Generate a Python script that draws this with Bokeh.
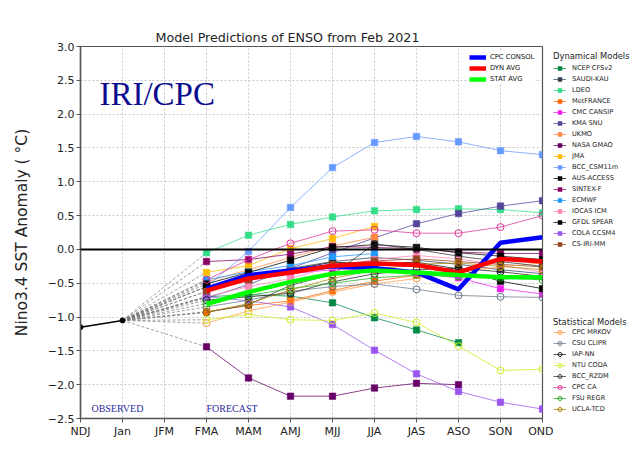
from bokeh.plotting import figure
from bokeh.layouts import row
from bokeh.models import (Range1d, FixedTicker, Span, Label, Legend, LegendItem, Title)
from bokeh.embed import file_html
from bokeh.resources import INLINE

# ---------------- data ----------------
seasons = ["NDJ", "Jan", "JFM", "FMA", "MAM", "AMJ", "MJJ", "JJA", "JAS", "ASO", "SON", "OND"]
y_ticks = [-2.5, -2.0, -1.5, -1.0, -0.5, 0.0, 0.5, 1.0, 1.5, 2.0, 2.5, 3.0]
y_tick_labels = ["\u22122.5", "\u22122.0", "\u22121.5", "\u22121.0", "\u22120.5", "0.0",
                 "0.5", "1.0", "1.5", "2.0", "2.5", "3.0"]

obs_x = [0, 1]
obs_y = [-1.15, -1.05]
first_fc = 3  # FMA index

dyn_names = ["NCEP CFSv2", "SAUDI-KAU", "LDEO", "MetFRANCE", "CMC CANSIP", "KMA SNU", "UKMO",
             "NASA GMAO", "JMA", "BCC_CSM11m", "AUS-ACCESS", "SINTEX-F", "ECMWF", "IOCAS ICM",
             "GFDL SPEAR", "COLA CCSM4", "CS-IRI-MM"]
dyn_colors = ["#008844", "#334455", "#33dd88", "#ff6600", "#ee22ee", "#554499", "#ff8844",
              "#660066", "#ffbb00", "#6699ff", "#000000", "#880066", "#2299ff", "#ff88bb",
              "#000000", "#9955ee", "#994422"]
ncep_cfsv2 = [-0.70, -0.67, -0.69, -0.79, -1.01, -1.19, -1.38]
saudi_kau = [-0.62, -0.42, -0.28, -0.18, -0.12, -0.16, -0.22, -0.30, -0.36]
ldeo = [-0.05, 0.21, 0.37, 0.48, 0.57, 0.59, 0.60, 0.59, 0.54]
metfrance = [-0.92, -0.83, -0.76, -0.61, -0.47, -0.38]
cmc_cansip = [-0.55, -0.45, -0.36, -0.30, -0.30, -0.35, -0.42, -0.58, -0.66]
kma_snu = [-0.72, -0.52, -0.28, -0.05, 0.17, 0.38, 0.53, 0.64, 0.72]
ukmo = [-0.48, -0.30, -0.12, 0.05, 0.18]
nasa_gmao = [-1.44, -1.90, -2.17, -2.17, -2.05, -1.98, -2.00]
jma = [-0.34, -0.24, 0.01, 0.16, 0.34]
bcc_csm11m = [-0.55, -0.03, 0.62, 1.21, 1.58, 1.67, 1.59, 1.46, 1.40]
aus_access = [-0.55, -0.45, -0.30, -0.19, -0.21, -0.19, -0.29, -0.47, -0.58]
sintex_f = [-0.18, -0.15, -0.07, 0.04, 0.03, 0.01, -0.04, -0.06, -0.06]
ecmwf = [-0.45, -0.33, -0.24, -0.11, -0.06]
iocas_icm = [-0.70, -0.55, -0.43, -0.25, -0.15, -0.09, -0.14, -0.23, -0.34]
gfdl_spear = [-0.51, -0.34, -0.16, 0.03, 0.07, 0.03, -0.05, -0.10, -0.15]
cola_ccsm4 = [-0.70, -0.76, -0.85, -1.11, -1.49, -1.84, -2.10, -2.26, -2.36]
cs_iri_mm = [-0.62, -0.45, -0.32, -0.22, -0.17, -0.14, -0.18, -0.22, -0.26]
dyn_values = [ncep_cfsv2, saudi_kau, ldeo, metfrance, cmc_cansip, kma_snu, ukmo, nasa_gmao, jma,
              bcc_csm11m, aus_access, sintex_f, ecmwf, iocas_icm, gfdl_spear, cola_ccsm4, cs_iri_mm]

stat_names = ["CPC MRKOV", "CSU CLIPR", "IAP-NN", "NTU CODA", "BCC_RZDM", "CPC CA", "FSU REGR", "UCLA-TCD"]
stat_colors = ["#ff9944", "#667788", "#222222", "#ccee22", "#333333", "#dd3399", "#22aa22", "#aa8800"]
cpc_mrkov = [-1.09, -0.91, -0.78, -0.63, -0.51, -0.43, -0.33, -0.26, -0.20]
csu_clipr = [-0.85, -0.75, -0.62, -0.55, -0.51, -0.59, -0.68, -0.70, -0.71]
iap_nn = [-0.75, -0.70, -0.65, -0.48, -0.36, -0.30, -0.28, -0.33, -0.40]
ntu_coda = [-1.04, -0.96, -1.04, -1.05, -0.94, -1.08, -1.43, -1.79, -1.77]
bcc_rzdm = [-0.93, -0.82, -0.53, -0.37, 0.08, 0.00, -0.10, -0.18, -0.25]
cpc_ca = [-0.45, -0.15, 0.09, 0.27, 0.29, 0.24, 0.24, 0.33, 0.50]
fsu_regr = [-0.80, -0.68, -0.58, -0.50, -0.42, -0.38, -0.40, -0.42, -0.45]
ucla_tcd = [-0.93, -0.80, -0.60, -0.43, -0.30, -0.22, -0.20, -0.25, -0.30]
stat_values = [cpc_mrkov, csu_clipr, iap_nn, ntu_coda, bcc_rzdm, cpc_ca, fsu_regr, ucla_tcd]

avg_names = ["CPC CONSOL", "DYN AVG", "STAT AVG"]
avg_colors = ["#0000ff", "#ff0000", "#00ff00"]
cpc_consol = [-0.58, -0.38, -0.31, -0.25, -0.28, -0.34, -0.59, 0.10, 0.18]
dyn_avg = [-0.61, -0.43, -0.34, -0.24, -0.21, -0.23, -0.34, -0.14, -0.18]
stat_avg = [-0.81, -0.63, -0.48, -0.36, -0.31, -0.34, -0.38, -0.41, -0.41]
avg_values = [cpc_consol, dyn_avg, stat_avg]

# ---------------- main figure ----------------
FONT = "DejaVu Sans"
p = figure(width=553, height=465, output_backend="svg", toolbar_location=None,
           x_range=Range1d(0, 11), y_range=Range1d(-2.5, 3.0),
           min_border_left=80, min_border_right=11, min_border_top=46, min_border_bottom=47,
           background_fill_color="white", border_fill_color="white")
p.title = Title(text="Model Predictions of ENSO from Feb 2021", align="left", offset=75,
                text_font=FONT, text_font_size="12.7px", text_font_style="normal",
                text_color="#222222", standoff=3)

p.outline_line_color = "#555555"
p.outline_line_width = 1.2

p.xaxis.ticker = FixedTicker(ticks=list(range(len(seasons))))
p.xaxis.major_label_overrides = {i: s for i, s in enumerate(seasons)}
p.yaxis.ticker = FixedTicker(ticks=y_ticks)
p.yaxis.major_label_overrides = {v: s for v, s in zip(y_ticks, y_tick_labels)}
for ax in (p.xaxis[0], p.yaxis[0]):
    ax.axis_line_color = "#555555"
    ax.axis_line_width = 1.5
    ax.major_tick_line_color = "#555555"
    ax.major_tick_out = 4
    ax.major_tick_in = 0
    ax.minor_tick_out = 0
    ax.minor_tick_in = 0
    ax.major_label_text_font = FONT
    ax.major_label_text_font_size = "11px"
    ax.major_label_text_color = "#222222"
    ax.major_label_standoff = 2
p.yaxis.axis_label = "Nino3.4 SST Anomaly ( \u00b0C)"
p.yaxis.axis_label_text_font = FONT
p.yaxis.axis_label_text_font_size = "15.5px"
p.yaxis.axis_label_text_font_style = "normal"
p.yaxis.axis_label_text_color = "#222222"
p.yaxis.axis_label_standoff = 14

for g in (p.xgrid[0], p.ygrid[0]):
    g.grid_line_color = "#c8c8c8"
    g.grid_line_dash = "2 2"
    g.grid_line_width = 1

p.add_layout(Span(location=0, dimension="width", line_color="black", line_width=2))

fc_x_all = list(range(first_fc, len(seasons)))
for vals in dyn_values + stat_values:
    p.line([obs_x[-1], first_fc], [obs_y[-1], vals[0]], line_color="#777777",
           line_width=0.7, line_dash="3 2")

for col, vals in zip(dyn_colors, dyn_values):
    xs = fc_x_all[:len(vals)]
    p.line(xs, vals, line_color=col, line_width=1, line_alpha=0.75)
    p.scatter(xs, vals, marker="square", size=6.5, fill_color=col, line_color=col, line_width=0.5)

for col, vals in zip(stat_colors, stat_values):
    xs = fc_x_all[:len(vals)]
    p.line(xs, vals, line_color=col, line_width=1, line_alpha=0.75)
    p.scatter(xs, vals, marker="circle", size=7, fill_color=None, line_color=col, line_width=1)

avg_items = []
for name, col, vals in zip(avg_names, avg_colors, avg_values):
    xs = fc_x_all[:len(vals)]
    lr = p.line(xs, vals, line_color=col, line_width=4.5)
    avg_items.append(LegendItem(label=name, renderers=[lr]))

p.line(obs_x, obs_y, line_color="black", line_width=1.5)
p.scatter(obs_x, obs_y, marker="circle", size=5, fill_color="black", line_color="black")

p.add_layout(Label(x=0.45, y=2.03, text="IRI/CPC", text_font="Liberation Serif",
                   text_font_size="33px", text_color="#0b0b8f", text_baseline="bottom"))
p.add_layout(Label(x=0.26, y=-2.43, text="OBSERVED", text_font="Liberation Serif",
                   text_font_size="10px", text_color="#2a2aa0", text_baseline="bottom"))
p.add_layout(Label(x=3.0, y=-2.43, text="FORECAST", text_font="Liberation Serif",
                   text_font_size="10px", text_color="#2a2aa0", text_baseline="bottom"))

def style_legend(lg, fs, gw, gh):
    lg.label_text_font = FONT
    lg.label_text_font_size = fs
    lg.label_text_color = "#222222"
    lg.glyph_width = gw
    lg.glyph_height = gh
    lg.label_height = gh
    lg.label_standoff = 6
    lg.spacing = 1
    lg.padding = 1
    lg.margin = 0
    lg.border_line_color = None
    lg.title_text_font = FONT
    lg.title_text_font_size = "8.4px"
    lg.title_text_font_style = "normal"
    lg.title_text_color = "#222222"
    lg.title_standoff = 2

leg_avg = Legend(items=avg_items, location=(389, 334))
style_legend(leg_avg, "6.8px", 17, 10)
leg_avg.label_standoff = 4
leg_avg.label_text_color = "#111111"
leg_avg.padding = 2
leg_avg.background_fill_color = "white"
leg_avg.background_fill_alpha = 1.0
p.add_layout(leg_avg)

# ---------------- legend panel (separate figure at right) ----------------
# the model series are drawn here outside the visible range, only to feed the legends
q = figure(width=87, height=465, output_backend="svg", toolbar_location=None,
           x_range=Range1d(0, 1), y_range=Range1d(0, 1),
           x_axis_location=None, y_axis_location=None,
           min_border_left=0, min_border_right=0, min_border_top=0, min_border_bottom=0,
           background_fill_color="white", border_fill_color="white")
q.outline_line_color = None
q.grid.visible = False

dyn_items = []
for name, col, vals in zip(dyn_names, dyn_colors, dyn_values):
    xs = fc_x_all[:len(vals)]
    lr = q.line(xs, vals, line_color=col, line_width=1, line_alpha=0.75)
    sr = q.scatter(xs, vals, marker="square", size=5.5, fill_color=col, line_color=col, line_width=0.5)
    dyn_items.append(LegendItem(label=name, renderers=[lr, sr]))

stat_items = []
for name, col, vals in zip(stat_names, stat_colors, stat_values):
    xs = fc_x_all[:len(vals)]
    lr = q.line(xs, vals, line_color=col, line_width=1, line_alpha=0.75)
    sr = q.scatter(xs, vals, marker="circle", size=6, fill_color=None, line_color=col, line_width=1)
    stat_items.append(LegendItem(label=name, renderers=[lr, sr]))

leg_dyn = Legend(items=dyn_items, location=(0, 169), title="Dynamical Models")
style_legend(leg_dyn, "6.6px", 13, 10)
leg_dyn.background_fill_alpha = 0
q.add_layout(leg_dyn)

leg_stat = Legend(items=stat_items, location=(0, 4), title="Statistical Models")
style_legend(leg_stat, "6.6px", 13, 10)
leg_stat.title_standoff = 0
leg_stat.background_fill_alpha = 0
q.add_layout(leg_stat)

layout = row(p, q)
open("out.html", "w").write(file_html(layout, INLINE))
